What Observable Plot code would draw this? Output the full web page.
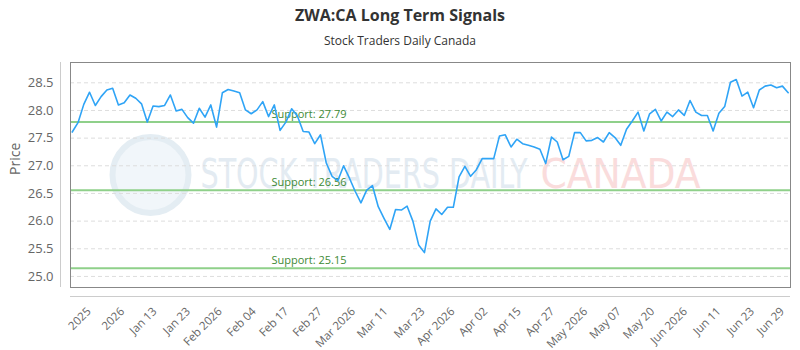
<!DOCTYPE html>
<html>
<head>
<meta charset="utf-8">
<script src="https://cdn.jsdelivr.net/npm/d3@7"></script>
<script src="https://cdn.jsdelivr.net/npm/@observablehq/plot@0.6"></script>
<style>
  body { margin: 0; background: #fff; font-family: "Open Sans", sans-serif; }
  #head { position: relative; width: 800px; height: 52px; }
  #title { position: absolute; left: 0; width: 800px; top: 4px; text-align: center; font-size: 16px; font-weight: bold; color: #333; }
  #subtitle { position: absolute; left: 0; width: 800px; top: 32px; text-align: center; font-size: 12px; color: #333; }
  svg { display: block; }
</style>
</head>
<body>
<div id="head"><div id="title">ZWA:CA Long Term Signals</div><div id="subtitle">Stock Traders Daily Canada</div></div>
<div id="chart"></div>
<script>
const prices = [
  27.61, 27.78, 28.11, 28.33, 28.09, 28.25, 28.37, 28.40, 28.10, 28.14,
  28.28, 28.22, 28.12, 27.79, 28.08, 28.07, 28.09, 28.28, 27.99, 28.02,
  27.87, 27.77, 28.04, 27.88, 28.10, 27.70, 28.32, 28.38, 28.35, 28.32,
  28.01, 27.94, 28.01, 28.16, 27.89, 28.10, 27.64, 27.79, 28.03, 27.90,
  27.62, 27.61, 27.40, 27.56, 27.05, 26.81, 26.73, 27.00, 26.78, 26.54,
  26.33, 26.56, 26.64, 26.26, 26.05, 25.85, 26.21, 26.20, 26.27, 26.00,
  25.57, 25.43, 26.00, 26.22, 26.12, 26.25, 26.25, 26.80, 26.99, 26.81,
  26.93, 27.13, 27.13, 27.13, 27.54, 27.56, 27.34, 27.48, 27.40, 27.37,
  27.34, 27.30, 27.04, 27.52, 27.43, 27.11, 27.17, 27.60, 27.60, 27.45,
  27.46, 27.51, 27.43, 27.60, 27.51, 27.37, 27.66, 27.81, 27.97, 27.63,
  27.94, 28.02, 27.81, 27.97, 27.89, 28.01, 27.91, 28.18, 27.97, 27.91,
  27.91, 27.63, 27.95, 28.07, 28.51, 28.56, 28.26, 28.33, 28.05, 28.37,
  28.44, 28.46, 28.41, 28.44, 28.32
];
const supports = [27.79, 26.56, 25.15];
const tickIndex = [2.9, 8.7, 14.3, 20.1, 25.6, 31.5, 37.1, 42.9, 48.7, 54.3, 60.7, 65.9, 71.6, 77.4, 83.2, 88.9, 94.7, 100.5, 106.2, 112.0, 117.8, 123.0];
const tickLabels = ["2025", "2026", "Jan 13", "Jan 23", "Feb 2026", "Feb 04", "Feb 17", "Feb 27", "Mar 2026", "Mar 11", "Mar 23", "Apr 2026", "Apr 02", "Apr 15", "Apr 27", "May 2026", "May 07", "May 20", "Jun 2026", "Jun 11", "Jun 23", "Jun 29"];
const yTicks = [25.0, 25.5, 26.0, 26.5, 27.0, 27.5, 28.0, 28.5];

const data = prices.map((p, i) => ({i, p}));
const labelOf = new Map(tickIndex.map((t, k) => [t, tickLabels[k]]));
const xDomain = [-0.3, prices.length - 1 + 0.4];
const yDomain = [24.8, 28.867];

const chart = Plot.plot({
  width: 800,
  height: 298,
  marginTop: 10,
  marginBottom: 63,
  marginLeft: 70,
  marginRight: 10,
  style: {fontFamily: "Open Sans, sans-serif", fontSize: "12px", color: "#666", background: "#fff"},
  x: {domain: xDomain, axis: null},
  y: {domain: yDomain, axis: null},
  marks: [
    Plot.dot([0], {frameAnchor: "left", dx: 80, r: 38, fill: "#f1f6fa", stroke: "#e4edf3", strokeWidth: 6}),
    Plot.text(["STOCK TRADERS DAILY"], {frameAnchor: "left", dx: 130, textAnchor: "start", fontSize: 40, fontFamily: "DejaVu Sans Condensed, sans-serif", fill: "#e3ebf2", className: "wm-a"}),
    Plot.text(["CANADA"], {frameAnchor: "left", dx: 470, textAnchor: "start", fontSize: 40, fontFamily: "DejaVu Sans Condensed, sans-serif", fill: "#fadcdc", className: "wm-b"}),
    Plot.gridY(yTicks, {stroke: "#ddd", strokeOpacity: 1, strokeDasharray: "4,3"}),
    Plot.ruleY(supports, {stroke: "#8fd08a", strokeWidth: 2}),
    Plot.text(supports, {y: d => d, frameAnchor: "left", dx: 201, dy: -8, textAnchor: "start", text: d => `Support: ${d.toFixed(2)}`, fill: "#3e8a35", fontSize: 11}),
    Plot.line(data, {x: "i", y: "p", stroke: "#2fa4f6", strokeWidth: 1.6}),
    Plot.frame({stroke: "#888"}),
    Plot.ruleX([xDomain[0]], {dx: -10, stroke: "#ccc"}),
    Plot.ruleY([yDomain[0]], {dy: 9, stroke: "#ccc"}),
    Plot.axisY({ticks: yTicks, tickSize: 0, tickPadding: 17, tickFormat: d => d.toFixed(1), fontSize: 13, fill: "#666", label: null}),
    Plot.text(["Price"], {frameAnchor: "left", dx: -55, rotate: -90, fontSize: 14, fill: "#666"}),
    Plot.axisX({ticks: tickIndex, tickSize: 0, tickPadding: 22, tickRotate: -45, tickFormat: d => labelOf.get(d), fontSize: 11.5, fill: "#666", label: null})
  ]
});
document.getElementById("chart").appendChild(chart);
// fit watermark words to their widths
d3.select(chart).selectAll(".wm-a text").attr("textLength", 327).attr("lengthAdjust", "spacingAndGlyphs");
d3.select(chart).selectAll(".wm-b text").attr("textLength", 160).attr("lengthAdjust", "spacingAndGlyphs");
</script>
</body>
</html>
